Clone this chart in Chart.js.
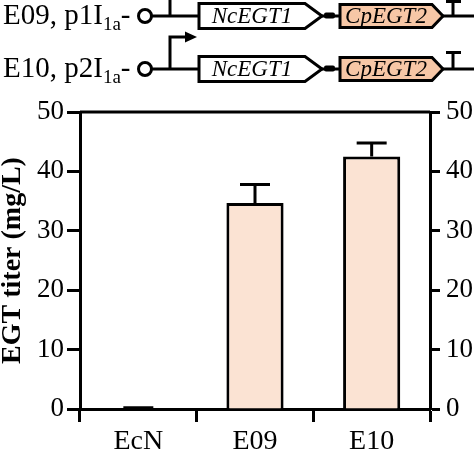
<!DOCTYPE html>
<html>
<head>
    <title>EGT titer</title>
    <script src="https://cdn.jsdelivr.net/npm/chart.js"></script>
    <style>
        html, body { margin: 0; padding: 0; background: #fff; }
        .wrap { position: relative; width: 474px; height: 474px; overflow: hidden; }
        .wrap canvas { position: absolute; left: 0; top: 0; }
        .wrap svg { position: absolute; left: 0; top: 0; }
    </style>
</head>
<body>
    <div class="wrap">
        <canvas id="titerChart" width="474" height="474"></canvas>
        <svg width="474" height="95" font-family="'Liberation Serif', 'Times New Roman', serif">
            <!-- row 1: E09 -->
            <text x="3" y="24" font-size="29">E09, p1I<tspan font-size="19" dy="6">1a</tspan><tspan dy="-6">-</tspan></text>
            <g fill="none" stroke="#000" stroke-width="3">
                <line x1="151.5" y1="16" x2="199" y2="16"/>
                <line x1="170" y1="16" x2="170" y2="-5"/>
                <line x1="322" y1="16" x2="340" y2="16"/>
                <line x1="443" y1="16" x2="474" y2="16"/>
                <line x1="453" y1="16" x2="453" y2="1"/>
                <line x1="446" y1="1.5" x2="461" y2="1.5"/>
                <circle cx="145" cy="16" r="6.5" fill="#fff"/>
                <polygon points="199,3.5 305,3.5 322,16 305,28.5 199,28.5" fill="#fff"/>
                <polygon points="340,4.5 432,4.5 443,16 432,27.5 340,27.5" fill="#f7c7a6"/>
            </g>
            <rect x="324" y="12.5" width="11" height="6" rx="2" fill="#000"/>
            <text x="252" y="23" font-size="23" font-style="italic" text-anchor="middle">NcEGT1</text>
            <text x="386" y="22.5" font-size="23" font-style="italic" text-anchor="middle">CpEGT2</text>

            <!-- row 2: E10 -->
            <text x="3" y="77" font-size="29">E10, p2I<tspan font-size="19" dy="6">1a</tspan><tspan dy="-6">-</tspan></text>
            <g fill="none" stroke="#000" stroke-width="3">
                <line x1="151.5" y1="69" x2="199" y2="69"/>
                <polyline points="170,69 170,37 187,37"/>
                <line x1="322" y1="69" x2="340" y2="69"/>
                <line x1="443" y1="69" x2="474" y2="69"/>
                <line x1="453" y1="69" x2="453" y2="52"/>
                <line x1="446" y1="52.5" x2="461" y2="52.5"/>
                <circle cx="145" cy="69" r="6.5" fill="#fff"/>
                <polygon points="199,56.5 305,56.5 322,69 305,81.5 199,81.5" fill="#fff"/>
                <polygon points="340,57.5 432,57.5 443,69 432,80.5 340,80.5" fill="#f7c7a6"/>
            </g>
            <polygon points="185,31.5 197,37 185,42.5" fill="#000"/>
            <rect x="324" y="65.5" width="11" height="6" rx="2" fill="#000"/>
            <text x="252" y="76" font-size="23" font-style="italic" text-anchor="middle">NcEGT1</text>
            <text x="386" y="75.5" font-size="23" font-style="italic" text-anchor="middle">CpEGT2</text>
        </svg>
    </div>
    <script>
        // data
        const strains = ['EcN', 'E09', 'E10'];
        const titer = [0.05, 34.7, 42.5];
        const titerErr = [0.15, 3.1, 2.3];
        const leftTicks = [0, 10, 20, 30, 40, 50];
        const rightTicks = [0, 100, 200, 300, 400, 500];

        const serif = "'Liberation Serif', 'Times New Roman', serif";

        // error bars (upper only) and top frame line
        const errorBars = {
            id: 'errorBars',
            afterDatasetsDraw(chart) {
                const ctx = chart.ctx;
                const y = chart.scales.y;
                const area = chart.chartArea;
                const meta = chart.getDatasetMeta(0);
                ctx.save();
                ctx.strokeStyle = '#000';
                ctx.lineWidth = 3;
                ctx.beginPath();
                ctx.moveTo(area.left, area.top);
                ctx.lineTo(area.right, area.top);
                ctx.stroke();
                meta.data.forEach((bar, i) => {
                    const y0 = y.getPixelForValue(titer[i]);
                    const y1 = y.getPixelForValue(titer[i] + titerErr[i]);
                    ctx.beginPath();
                    ctx.moveTo(bar.x, y0);
                    ctx.lineTo(bar.x, y1);
                    ctx.moveTo(bar.x - 15, y1);
                    ctx.lineTo(bar.x + 15, y1);
                    ctx.stroke();
                });
                ctx.restore();
            }
        };

        new Chart(document.getElementById('titerChart'), {
            type: 'bar',
            data: {
                labels: strains,
                datasets: [{
                    data: titer,
                    backgroundColor: '#fbe3d3',
                    borderColor: '#000',
                    borderWidth: 3,
                    borderSkipped: 'bottom',
                    barPercentage: 0.49,
                    categoryPercentage: 1
                }]
            },
            options: {
                responsive: false,
                animation: false,
                layout: { padding: { top: 112, left: 0, right: 0, bottom: 0 } },
                plugins: { legend: { display: false }, tooltip: { enabled: false } },
                scales: {
                    x: {
                        afterFit(s) { s.height = 65; },
                        grid: { display: true, drawOnChartArea: false, tickLength: 13, tickWidth: 3, tickColor: '#000' },
                        border: { display: true, width: 3, color: '#000' },
                        ticks: { color: '#000', padding: 3, font: { family: serif, size: 28 } }
                    },
                    y: {
                        min: 0,
                        max: 50,
                        afterFit(s) { s.width = 80; },
                        afterBuildTicks(s) { s.ticks = leftTicks.map(v => ({ value: v })); },
                        grid: { display: true, drawOnChartArea: false, tickLength: 13, tickWidth: 3, tickColor: '#000' },
                        border: { display: true, width: 3, color: '#000' },
                        ticks: { color: '#000', padding: 3, font: { family: serif, size: 27 } },
                        title: {
                            display: true,
                            text: 'EGT titer (mg/L)',
                            color: '#000',
                            padding: { top: -4, bottom: 0 },
                            font: { family: serif, size: 28, weight: 'bold' }
                        }
                    },
                    y2: {
                        position: 'right',
                        min: 0,
                        max: 500,
                        afterFit(s) { s.width = 44; },
                        afterBuildTicks(s) { s.ticks = rightTicks.map(v => ({ value: v })); },
                        grid: { display: true, drawOnChartArea: false, tickLength: 10, tickWidth: 3, tickColor: '#000' },
                        border: { display: true, width: 3, color: '#000' },
                        ticks: { color: '#000', padding: 6, font: { family: serif, size: 27 } }
                    }
                }
            },
            plugins: [errorBars]
        });
    </script>
</body>
</html>
